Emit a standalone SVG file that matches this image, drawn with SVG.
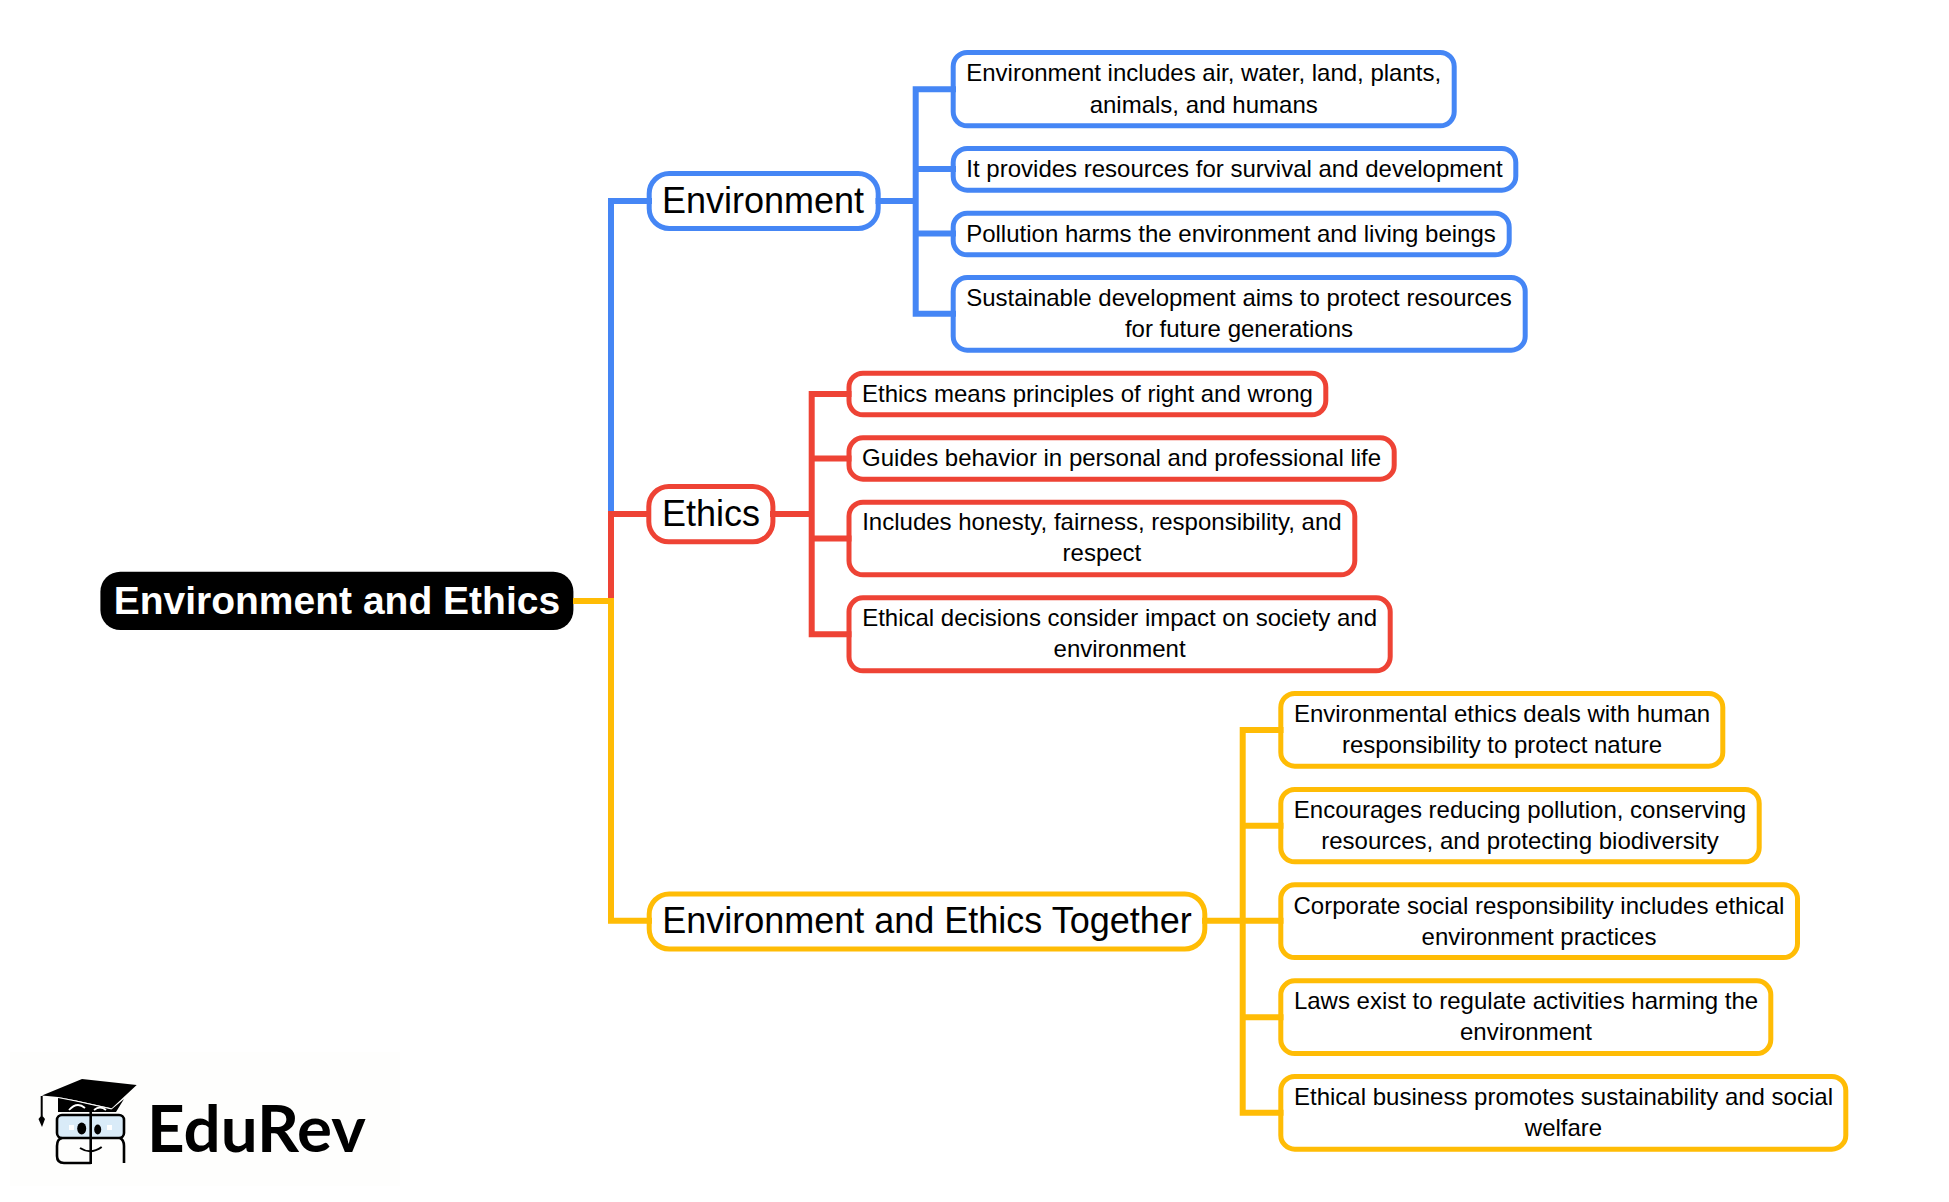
<svg xmlns="http://www.w3.org/2000/svg" width="1949" height="1202" viewBox="0 0 1949 1202">
<style>
text{font-family:"Liberation Sans",Arial,sans-serif;fill:#000}
.leaf{font-size:24px;text-anchor:middle}
.sub{font-size:36px;text-anchor:middle}
.root{font-size:39px;font-weight:700;text-anchor:middle;fill:#fff}
.box{fill:#fff;stroke-width:5}
.con{fill:none;stroke-width:6;stroke-miterlimit:10}
.b{stroke:#4586F5}.r{stroke:#EE4335}.y{stroke:#FFBC05}
</style>
<rect width="1949" height="1202" fill="#fff"/>
<g id="root"><rect x="100.4" y="571.7" width="473" height="58.3" rx="20" fill="#000"/><text class="root" x="336.9" y="614">Environment and Ethics</text></g>
<g id="n-environment"><rect class="box b" x="649.2" y="173.5" width="229" height="55" rx="20"/><text class="sub" x="763" y="213">Environment</text></g>
<g id="n-ethics"><rect class="box r" x="648.8" y="486.5" width="124.1" height="55.3" rx="20"/><text class="sub" x="711" y="526">Ethics</text></g>
<g id="n-together"><rect class="box y" x="649.2" y="894" width="555.6" height="55" rx="20"/><text class="sub" x="927" y="933">Environment and Ethics Together</text></g>
<g id="b1"><rect class="box b" x="953.2" y="52.5" width="501" height="73.3" rx="14"/><text class="leaf" x="1203.7" y="81">Environment includes air, water, land, plants,</text><text class="leaf" x="1203.7" y="112.7">animals, and humans</text></g>
<g id="b2"><rect class="box b" x="953.2" y="148.5" width="562.6" height="41.7" rx="14"/><text class="leaf" x="1234.5" y="177.2">It provides resources for survival and development</text></g>
<g id="b3"><rect class="box b" x="953.2" y="213.2" width="556" height="41.6" rx="14"/><text class="leaf" x="1231" y="241.8">Pollution harms the environment and living beings</text></g>
<g id="b4"><rect class="box b" x="953.2" y="277.5" width="572" height="72.7" rx="14"/><text class="leaf" x="1239" y="305.6">Sustainable development aims to protect resources</text><text class="leaf" x="1239" y="336.6">for future generations</text></g>
<g id="r1"><rect class="box r" x="849" y="373.2" width="476.8" height="41.6" rx="14"/><text class="leaf" x="1087.4" y="402">Ethics means principles of right and wrong</text></g>
<g id="r2"><rect class="box r" x="849" y="437.8" width="545.2" height="41.4" rx="14"/><text class="leaf" x="1121.6" y="466">Guides behavior in personal and professional life</text></g>
<g id="r3"><rect class="box r" x="849" y="502.2" width="505.8" height="72.6" rx="14"/><text class="leaf" x="1101.9" y="530.4">Includes honesty, fairness, responsibility, and</text><text class="leaf" x="1101.9" y="561.4">respect</text></g>
<g id="r4"><rect class="box r" x="849" y="597.8" width="541.2" height="73" rx="14"/><text class="leaf" x="1119.6" y="626.4">Ethical decisions consider impact on society and</text><text class="leaf" x="1119.6" y="657.4">environment</text></g>
<g id="y1"><rect class="box y" x="1280.8" y="693.5" width="442" height="72.7" rx="14"/><text class="leaf" x="1502" y="722">Environmental ethics deals with human</text><text class="leaf" x="1502" y="753">responsibility to protect nature</text></g>
<g id="y2"><rect class="box y" x="1280.8" y="789.5" width="478.4" height="72.3" rx="14"/><text class="leaf" x="1520" y="818">Encourages reducing pollution, conserving</text><text class="leaf" x="1520" y="849">resources, and protecting biodiversity</text></g>
<g id="y3"><rect class="box y" x="1280.8" y="884.8" width="516.7" height="72.7" rx="14"/><text class="leaf" x="1539" y="914">Corporate social responsibility includes ethical</text><text class="leaf" x="1539" y="945">environment practices</text></g>
<g id="y4"><rect class="box y" x="1280.8" y="980.8" width="490" height="72.7" rx="14"/><text class="leaf" x="1526" y="1009">Laws exist to regulate activities harming the</text><text class="leaf" x="1526" y="1040">environment</text></g>
<g id="y5"><rect class="box y" x="1280.8" y="1076.5" width="565" height="72.7" rx="14"/><text class="leaf" x="1563.5" y="1104.7">Ethical business promotes sustainability and social</text><text class="leaf" x="1563.5" y="1135.7">welfare</text></g>
<g id="connectors">
<path class="con b" d="M573 601H611V201H652"/>
<path class="con r" d="M573 601H611V514H651"/>
<path class="con y" d="M573 601H611V920.7H652"/>
<path class="con b" d="M875.5 201H915.7M956 89.3H915.7V313.7H956M915.7 169H956M915.7 233.5H956"/>
<path class="con r" d="M770 514H811.7M851.5 394H811.7V634.3H851.5M811.7 458.5H851.5M811.7 538.5H851.5"/>
<path class="con y" d="M1202 920.7H1242.7M1283.5 730H1242.7V1112.7H1283.5M1242.7 825.7H1283.5M1242.7 920.7H1283.5M1242.7 1017.2H1283.5"/>
</g>
<g id="logo">
<rect x="10" y="1052" width="390" height="134" fill="#fefefd"/>
<path d="M58 1097V1112H116L124 1099L112 1109Z" fill="#000"/>
<path d="M42 1095.5L82 1079L136.7 1085L111.7 1108.3L76 1100.5L58 1097Z" fill="#000"/>
<path d="M58 1097.5L76 1101L111.7 1109" stroke="#fff" stroke-width="1.2" fill="none"/>
<path d="M69 1110Q77 1101 85 1108M94 1110Q100 1105 106 1110" stroke="#fff" stroke-width="1.8" fill="none"/>
<path d="M41.7 1096V1116" stroke="#000" stroke-width="2" fill="none"/>
<path d="M41.7 1115L38.5 1119L42 1127L45 1119Z" fill="#000"/>
<rect x="57" y="1115" width="67" height="23" rx="5" fill="#d9ebf8" stroke="#000" stroke-width="2.6"/>
<path d="M90.7 1108V1164" stroke="#000" stroke-width="2.6" fill="none"/>
<path d="M90.7 1163H64Q57 1163 57 1156V1146Q57 1139 62 1138M120 1138Q124 1140 124 1146V1163" stroke="#000" stroke-width="2.6" fill="none"/>
<ellipse cx="81.7" cy="1128.5" rx="4.5" ry="6" fill="#000"/><ellipse cx="97.7" cy="1129.5" rx="3.5" ry="5" fill="#000"/>
<rect x="69" y="1125" width="5" height="5" fill="#fff"/><rect x="107" y="1125" width="5" height="5" fill="#fff"/>
<path d="M80 1148Q90.7 1155 101.7 1147" stroke="#000" stroke-width="2" fill="none"/>
<text x="147" y="1151.7" style="font-family:Lato,'Noto Sans',sans-serif;font-weight:700;font-size:65.5px">EduRev</text>
</g>
</svg>
